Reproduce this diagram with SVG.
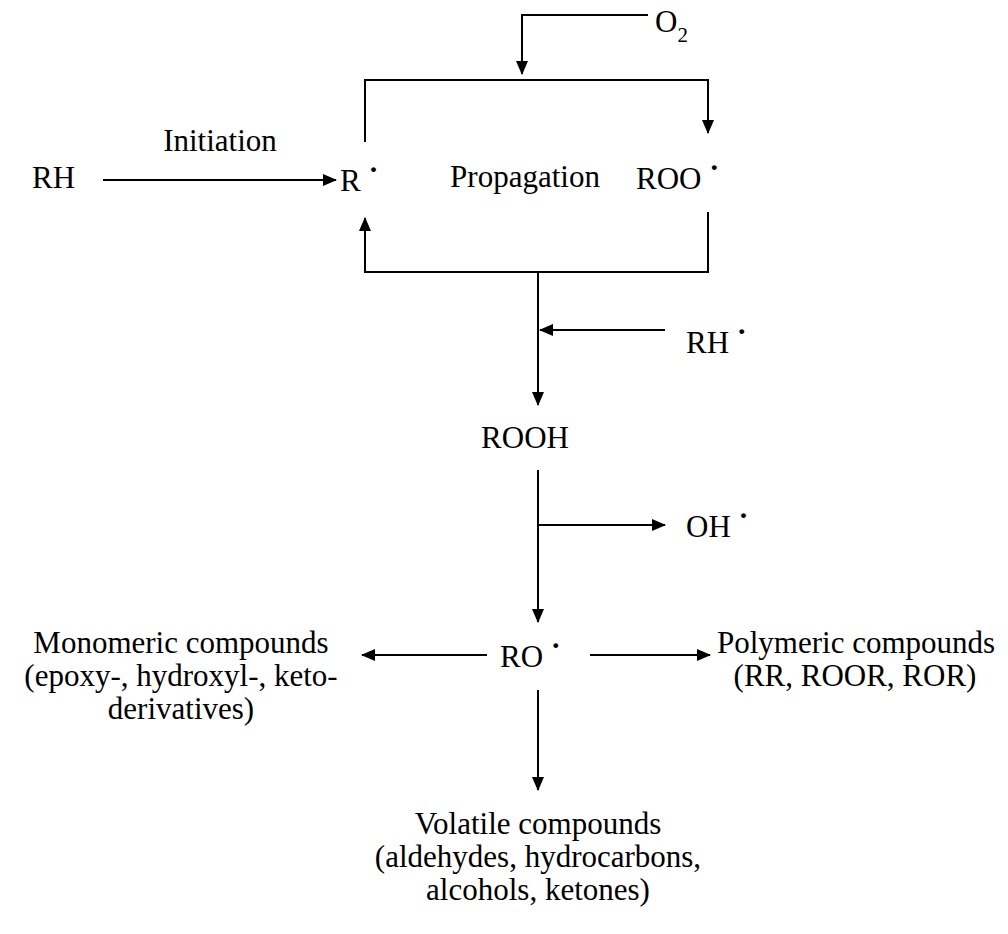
<svg xmlns="http://www.w3.org/2000/svg" width="1008" height="934" viewBox="0 0 1008 934">
<style>
text{font-family:"Liberation Serif","Times New Roman",serif;font-size:31px;fill:#000}
.c{text-anchor:middle}
.dot{font-size:30px;font-weight:bold}
line,polyline{stroke:#000;stroke-width:2;fill:none}
</style>
<defs><marker id="a" markerWidth="14" markerHeight="12" refX="13" refY="6" orient="auto" markerUnits="userSpaceOnUse"><path d="M0,0 L14,6 L0,12 z" fill="#000"/></marker></defs>
<rect width="1008" height="934" fill="#fff"/>
<g id="connectors">
<polyline points="648,15 522,15 522,74" marker-end="url(#a)"/>
<polyline points="365,142 365,80 708,80 708,133" marker-end="url(#a)"/>
<line x1="103" y1="180" x2="336" y2="180" marker-end="url(#a)"/>
<polyline points="708,212 708,272 365,272 365,218" marker-end="url(#a)"/>
<line x1="538" y1="272" x2="538" y2="405" marker-end="url(#a)"/>
<line x1="665" y1="330" x2="540" y2="330" marker-end="url(#a)"/>
<line x1="538" y1="470" x2="538" y2="622" marker-end="url(#a)"/>
<line x1="538" y1="525" x2="665" y2="525" marker-end="url(#a)"/>
<line x1="487" y1="655" x2="362" y2="655" marker-end="url(#a)"/>
<line x1="590" y1="655" x2="710" y2="655" marker-end="url(#a)"/>
<line x1="538" y1="690" x2="538" y2="790" marker-end="url(#a)"/>
</g>
<g id="o2"><text x="655" y="32">O<tspan font-size="21" dy="10">2</tspan></text></g>
<g id="initiation"><text x="220" y="151" class="c">Initiation</text></g>
<g id="rh"><text x="32" y="188">RH</text></g>
<g id="r"><text x="340" y="191">R <tspan class="dot" dy="-12">·</tspan></text></g>
<g id="propagation"><text x="525" y="187" class="c">Propagation</text></g>
<g id="roo"><text x="636" y="189">ROO <tspan class="dot" dy="-12">·</tspan></text></g>
<g id="rhdot"><text x="686" y="353">RH <tspan class="dot" dy="-12">·</tspan></text></g>
<g id="rooh"><text x="525" y="448" class="c">ROOH</text></g>
<g id="oh"><text x="686" y="537">OH <tspan class="dot" dy="-12">·</tspan></text></g>
<g id="ro"><text x="500" y="667">RO <tspan class="dot" dy="-12">·</tspan></text></g>
<g id="monomeric"><text class="c" x="181" y="653">Monomeric compounds</text><text class="c" x="181" y="686">(epoxy-, hydroxyl-, keto-</text><text class="c" x="181" y="719">derivatives)</text></g>
<g id="polymeric"><text x="717" y="653">Polymeric compounds</text><text class="c" x="855" y="686">(RR, ROOR, ROR)</text></g>
<g id="volatile"><text class="c" x="538" y="834">Volatile compounds</text><text class="c" x="538" y="867">(aldehydes, hydrocarbons,</text><text class="c" x="538" y="900">alcohols, ketones)</text></g>
</svg>
